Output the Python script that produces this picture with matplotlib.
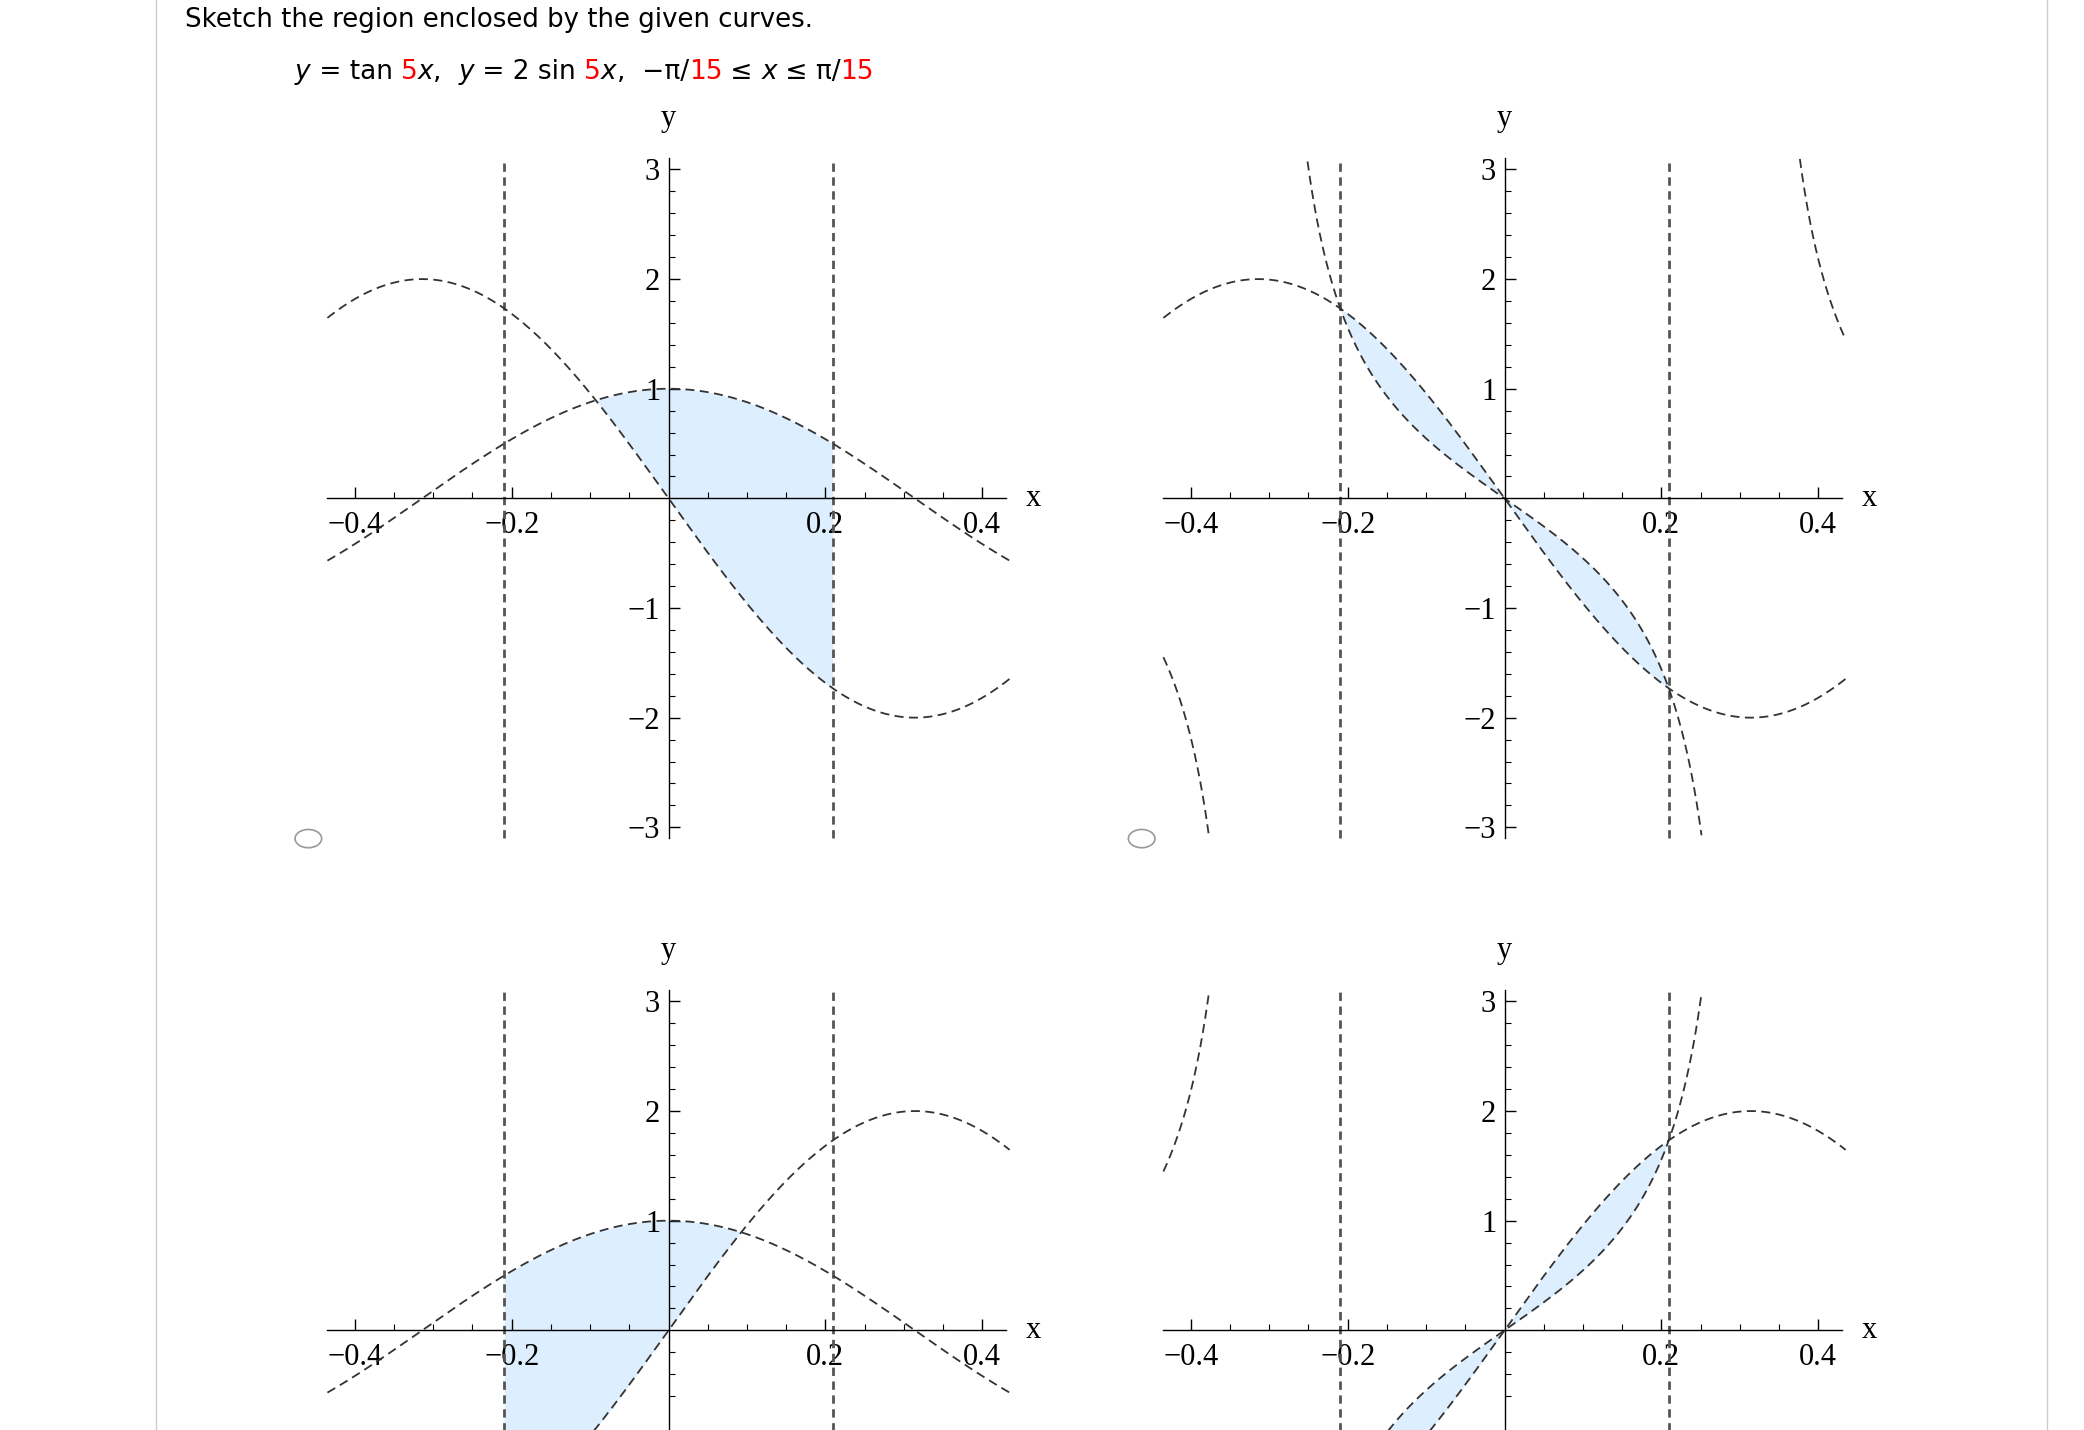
import numpy as np
import matplotlib
matplotlib.use("Agg")
import matplotlib.pyplot as plt
from matplotlib.ticker import FixedLocator
from matplotlib.patches import Circle

# ---- data ----
x_bound = np.pi / 15
xticks = [-0.4, -0.2, 0.2, 0.4]
xtick_labels = ["\u22120.4", "\u22120.2", "0.2", "0.4"]
x_minor = [-0.4, -0.35, -0.3, -0.25, -0.2, -0.15, -0.1, -0.05, 0.05, 0.1, 0.15, 0.2, 0.25, 0.3, 0.35, 0.4]
yticks = [-3, -2, -1, 1, 2, 3]
ytick_labels = ["\u22123", "\u22122", "\u22121", "1", "2", "3"]
y_minor = [v / 5 for v in range(-15, 16) if v % 5 != 0]
f_neg2sin = lambda x: -2 * np.sin(5 * x)
f_cos = lambda x: np.cos(5 * x)
f_negtan = lambda x: -np.tan(5 * x)
f_2sin = lambda x: 2 * np.sin(5 * x)
f_tan = lambda x: np.tan(5 * x)
x_int_tl = -np.arctan(0.5) / 5
x_int_bl = np.arctan(0.5) / 5
panels = [
    (503, 375, f_neg2sin, f_cos, x_int_tl, x_bound, False, False),
    (1132, 375, f_neg2sin, f_negtan, -x_bound, x_bound, True, False),
    (503, 1001, f_2sin, f_cos, -x_bound, x_int_bl, False, True),
    (1132, 1001, f_2sin, f_tan, -x_bound, x_bound, True, True),
]

W, H = 1568.0, 1076.0
fig = plt.figure(figsize=(20.84, 14.3), dpi=100)
fig.patch.set_facecolor("white")
SX, SY = 590.0, 82.5
XL, XR, YB, YT = -0.45, 0.47, -3.25, 3.4
serif = "Liberation Serif"
dash = (0, (5, 3))

for (ox, oy, fa, fb, lo, hi, is_tan, bottom) in panels:
    left = ox + XL * SX
    width = (XR - XL) * SX
    top = oy - YT * SY
    height = (YT - YB) * SY
    ax = fig.add_axes([left / W, 1 - (top + height) / H, width / W, height / H])
    ax.set_xlim(XL, XR)
    ax.set_ylim(YB, YT)
    ax.patch.set_alpha(0)
    for s in ["top", "right"]:
        ax.spines[s].set_visible(False)
    ax.spines["bottom"].set_position(("data", 0))
    ax.spines["left"].set_position(("data", 0))
    ax.spines["bottom"].set_bounds(-0.435, 0.43)
    ax.spines["left"].set_bounds(-3.1, 3.1)
    for s in ["bottom", "left"]:
        ax.spines[s].set_linewidth(1.0)
        ax.spines[s].set_zorder(5)
    ax.xaxis.set_major_locator(FixedLocator(xticks))
    ax.set_xticklabels(xtick_labels, family=serif, fontsize=22)
    ax.xaxis.set_minor_locator(FixedLocator(x_minor))
    yt = [v for v in yticks if v > 0] if bottom else yticks
    yl = [l for v, l in zip(yticks, ytick_labels) if v > 0] if bottom else ytick_labels
    ym = [v for v in y_minor if v > -0.8] if bottom else y_minor
    ax.yaxis.set_major_locator(FixedLocator(yt))
    ax.set_yticklabels(yl, family=serif, fontsize=22)
    ax.yaxis.set_minor_locator(FixedLocator(ym))
    ax.tick_params(axis="x", which="major", direction="in", length=8, width=1, pad=9)
    ax.tick_params(axis="y", which="major", direction="in", length=8, width=1, pad=6)
    ax.tick_params(axis="both", which="minor", direction="in", length=4, width=0.8)
    ax.text(0.455, 0, "x", family=serif, fontsize=22, va="center", ha="left")
    ax.text(0, 3.33, "y", family=serif, fontsize=22, va="bottom", ha="center")

    x = np.linspace(-0.435, 0.435, 600)
    ax.plot(x, fa(x), color="#333333", lw=1.3, ls=dash, zorder=4)
    if is_tan:
        for seg in [(-0.435, -np.pi / 10 - 0.001), (-np.pi / 10 + 0.001, np.pi / 10 - 0.001),
                    (np.pi / 10 + 0.001, 0.435)]:
            xs = np.linspace(seg[0], seg[1], 800)
            ys = fb(xs)
            ys = np.where(np.abs(ys) <= 3.1, ys, np.nan)
            ax.plot(xs, ys, color="#333333", lw=1.3, ls=dash, zorder=4)
    else:
        ax.plot(x, fb(x), color="#333333", lw=1.3, ls=dash, zorder=4)
    xf = np.linspace(lo, hi, 400)
    ax.fill_between(xf, fa(xf), fb(xf), color="#ddeeff", zorder=1, lw=0)
    for vx in (-x_bound, x_bound):
        ax.plot([vx, vx], [-3.1, 3.1], color="#555555", lw=2, ls=(0, (3, 2)), zorder=3)

# page decorations
fig.add_artist(plt.Line2D([117 / W, 117 / W], [0, 1], color="#cccccc", lw=1))
fig.add_artist(plt.Line2D([1540 / W, 1540 / W], [0, 1], color="#cccccc", lw=1))
for cx in (232, 859):
    fig.add_artist(Circle((cx / W, 1 - 631 / H), 10 / W, transform=fig.transFigure,
                          fill=False, ec="#999999", lw=1.2))

fig.text(139 / W, 1 - 15 / H, "Sketch the region enclosed by the given curves.",
         fontsize=18.7, family="DejaVu Sans", va="center", ha="left")

pieces = [("y", "k", True), (" = tan ", "k", False), ("5", "red", False), ("x", "k", True),
          (",  ", "k", False), ("y", "k", True), (" = 2 sin ", "k", False), ("5", "red", False),
          ("x", "k", True), (",  \u2212\u03c0/", "k", False), ("15", "red", False),
          (" \u2264 ", "k", False), ("x", "k", True), (" \u2264 \u03c0/", "k", False),
          ("15", "red", False)]
fig.canvas.draw()
r = fig.canvas.get_renderer()
xpos = 222 / W
for txt, col, it in pieces:
    t = fig.text(xpos, 1 - 54 / H, txt, fontsize=19, family="DejaVu Sans", color=col,
                 style="italic" if it else "normal", va="center", ha="left")
    bb = t.get_window_extent(renderer=r)
    xpos += bb.width / fig.bbox.width

fig.savefig("out.png", dpi=100)
